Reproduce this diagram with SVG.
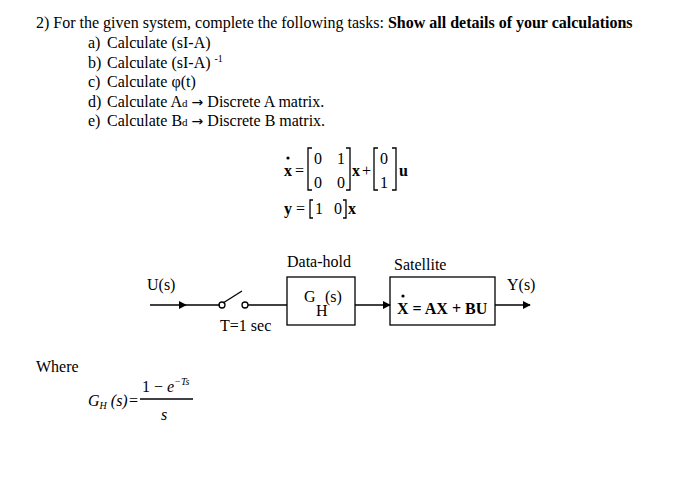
<svg xmlns="http://www.w3.org/2000/svg" width="698" height="480" viewBox="0 0 698 480">
<defs>
<style>
text{font-family:"Liberation Serif",serif;font-size:16px;fill:#000}
.b{font-weight:bold}
.i{font-style:italic}
.ar{font-family:"DejaVu Sans",sans-serif;font-size:14px}
.ln{stroke:#000;stroke-width:1.3;fill:none}
</style>
<marker id="ar" viewBox="0 0 10 10" refX="9" refY="5" markerWidth="8" markerHeight="8" orient="auto" markerUnits="userSpaceOnUse"><path d="M0,0L10,5L0,10z" fill="#000"/></marker>
</defs>
<rect width="698" height="480" fill="#fff"/>
<g id="tasks">
<text x="36" y="28" font-size="16.8">2)  For the given system, complete the following tasks:  <tspan class="b">Show all details of your calculations</tspan></text>
<text x="88" y="48">a)</text><text x="107" y="48">Calculate (sI-A)</text>
<text x="88" y="68">b)</text><text x="107" y="68">Calculate (sI-A) <tspan font-size="10" dy="-6">-1</tspan></text>
<text x="88" y="87">c)</text><text x="107" y="87">Calculate φ(t)</text>
<text x="88" y="107">d)</text><text x="107" y="107">Calculate A<tspan font-size="11">d</tspan> <tspan class="ar">→</tspan> Discrete A matrix.</text>
<text x="88" y="126">e)</text><text x="107" y="126">Calculate B<tspan font-size="11">d</tspan> <tspan class="ar">→</tspan> Discrete B matrix.</text>
</g>
<g id="equations">
<circle cx="288" cy="158" r="1.6" fill="#000"/>
<text x="284" y="176" class="b">x</text><text x="295" y="176">=</text>
<path class="ln" d="M312,148h-4v42h4M346,148h4v42h-4"/>
<text x="314" y="164">0</text><text x="337" y="164">1</text>
<text x="314" y="188">0</text><text x="337" y="188">0</text>
<text x="352" y="176" class="b">x</text><text x="362" y="176">+</text>
<path class="ln" d="M378,148h-4v42h4M392,148h4v42h-4"/>
<text x="380" y="164">0</text><text x="380" y="188">1</text>
<text x="399" y="176" class="b">u</text>
<text x="284" y="214"><tspan class="b">y</tspan> = </text>
<path class="ln" d="M313,200h-3v18h3M343,200h3v18h-3"/>
<text x="315" y="214">1</text><text x="334" y="214">0</text>
<text x="348" y="214" class="b">x</text>
</g>
<g id="connectors">
<line class="ln" x1="150" y1="305" x2="186" y2="305" marker-end="url(#ar)"/>
<line class="ln" x1="186" y1="305" x2="220" y2="305"/>
<line class="ln" x1="223" y1="303" x2="242" y2="291"/>
<line class="ln" x1="248" y1="305" x2="287" y2="305"/>
<line class="ln" x1="355" y1="305" x2="390" y2="305" marker-end="url(#ar)"/>
<line class="ln" x1="495" y1="305" x2="530" y2="305" marker-end="url(#ar)"/>
</g>
<g id="switch">
<circle class="ln" cx="222" cy="305" r="3"/>
<circle class="ln" cx="245" cy="305" r="3"/>
<text x="220" y="331">T=1 sec</text>
</g>
<g id="datahold">
<rect class="ln" x="287" y="277" width="68" height="48"/>
<text x="287" y="267">Data-hold</text>
<text x="304" y="302">G</text><text x="316" y="316" font-size="9">H</text><text x="325" y="302">(s)</text>
</g>
<g id="satellite">
<rect class="ln" x="390" y="277" width="105" height="48"/>
<text x="394" y="270">Satellite</text>
<circle cx="403" cy="296" r="1.6" fill="#000"/>
<text x="397" y="314" class="b" font-size="17">X = AX + BU</text>
</g>
<text x="147" y="290">U(s)</text>
<text x="507" y="290">Y(s)</text>
<text x="36" y="372">Where</text>
<g id="formula">
<text x="88" y="406" class="i" font-size="17">G<tspan font-size="10" dy="3">H</tspan><tspan dy="-3"> (s)</tspan></text>
<text x="129" y="406" font-size="17">=</text>
<text x="142" y="392" font-size="17">1 − <tspan class="i">e</tspan><tspan font-size="10" dy="-7" class="i">−Ts</tspan></text>
<line class="ln" x1="140" y1="399" x2="193" y2="399"/>
<text x="161" y="420" class="i">s</text>
</g>
</svg>
